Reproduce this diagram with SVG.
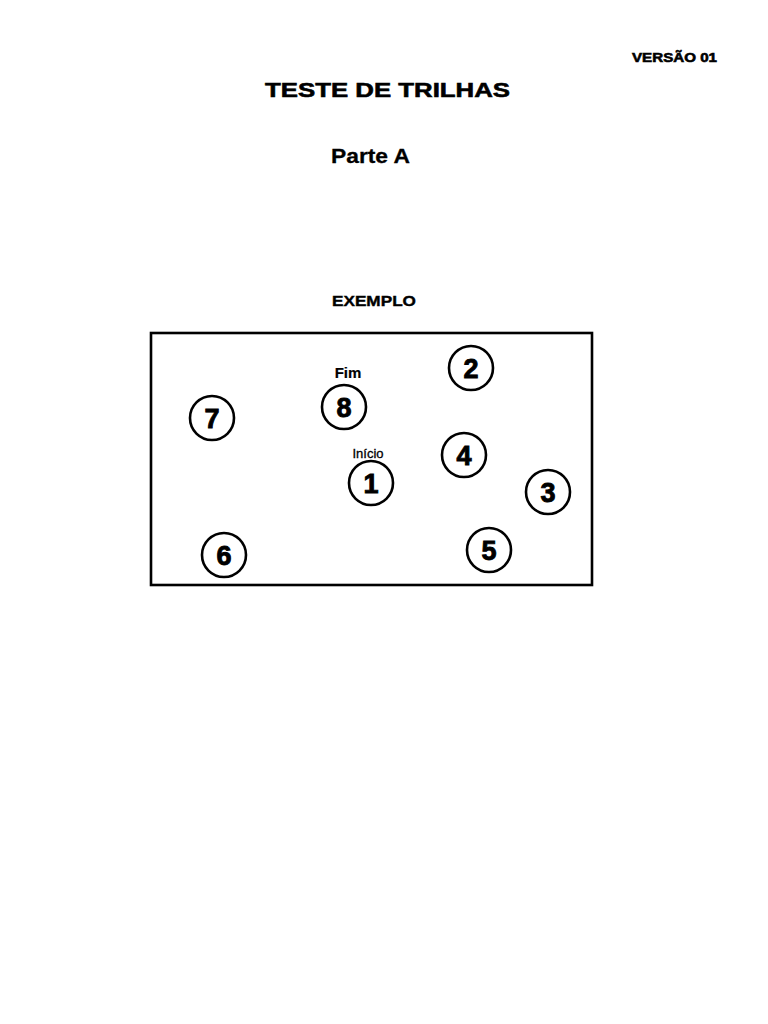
<svg xmlns="http://www.w3.org/2000/svg" width="768" height="1024" viewBox="0 0 768 1024">
<style>
text{font-family:"Liberation Sans",Arial,sans-serif;fill:#000}
.b{font-weight:bold;stroke:#000;stroke-width:0.6}
.node circle{fill:#fff;stroke:#000;stroke-width:2.6}
.node text{font-size:27px;font-weight:bold;text-anchor:middle;stroke:#000;stroke-width:0.9}
</style>
<rect width="768" height="1024" fill="#fff"/>
<text class="b" x="632" y="62" font-size="13" textLength="85" lengthAdjust="spacingAndGlyphs">VERSÃO 01</text>
<text class="b" x="265" y="97" font-size="21" textLength="245" lengthAdjust="spacingAndGlyphs">TESTE DE TRILHAS</text>
<text class="b" x="331" y="163" font-size="21" textLength="79" lengthAdjust="spacingAndGlyphs" style="stroke-width:0.3">Parte A</text>
<text class="b" x="332" y="306" font-size="15" textLength="84" lengthAdjust="spacingAndGlyphs" style="stroke-width:0.4">EXEMPLO</text>
<rect x="151" y="333" width="441" height="252" fill="none" stroke="#000" stroke-width="2.6"/>
<text class="b" x="348" y="378" font-size="15" text-anchor="middle" style="stroke-width:0.2">Fim</text>
<text x="368" y="458" font-size="13" text-anchor="middle" style="stroke:#000;stroke-width:0.3">Início</text>
<g id="connectors"/>
<g id="n1" class="node"><circle cx="371" cy="483" r="22"/><text x="371" y="493">1</text></g>
<g id="n2" class="node"><circle cx="471" cy="368" r="22"/><text x="471" y="378">2</text></g>
<g id="n3" class="node"><circle cx="548" cy="492" r="22"/><text x="548" y="502">3</text></g>
<g id="n4" class="node"><circle cx="464" cy="455" r="22"/><text x="464" y="465">4</text></g>
<g id="n5" class="node"><circle cx="489" cy="550" r="22"/><text x="489" y="560">5</text></g>
<g id="n6" class="node"><circle cx="224" cy="555" r="22"/><text x="224" y="565">6</text></g>
<g id="n7" class="node"><circle cx="212" cy="418" r="22"/><text x="212" y="428">7</text></g>
<g id="n8" class="node"><circle cx="344" cy="407" r="22"/><text x="344" y="417">8</text></g>
</svg>
